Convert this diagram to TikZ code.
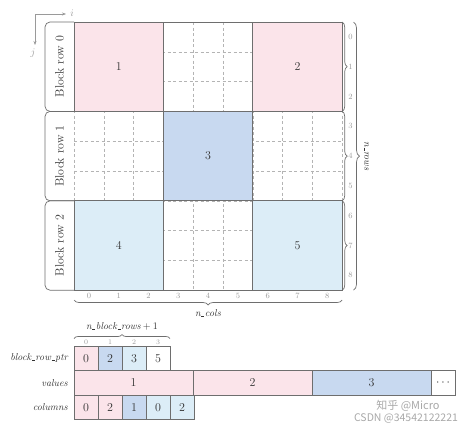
\documentclass[tikz,border=0pt]{standalone}
\usepackage{fontspec}
\newfontfamily\cjkfont{Noto Sans CJK SC}
\usetikzlibrary{decorations.pathreplacing,arrows.meta}
\definecolor{bpink}{HTML}{FBE4EA}
\definecolor{bblue}{HTML}{C8D9F0}
\definecolor{blight}{HTML}{DCEDF7}
\definecolor{lineg}{HTML}{6E6E6E}
\definecolor{dashg}{HTML}{B4B4B4}
\definecolor{idxg}{HTML}{9A9A9A}
\definecolor{txt}{HTML}{333333}
\definecolor{wmark}{HTML}{A8A8A8}
\newcommand\myus{\leavevmode\kern.06em\vbox{\hrule width.3em height .4pt}\kern.06em}
\tikzset{
  dashline/.style={draw=dashg, dash pattern=on 3pt off 2.5pt, line width=0.5pt},
  solidline/.style={draw=lineg, line width=0.7pt},
  blockbox/.style={draw=lineg, line width=0.7pt, minimum width=89.4pt, minimum height=89.4pt, inner sep=0pt, font=\fontsize{12}{14}\selectfont, text=txt},
  rowlabel/.style={rotate=90, text=txt, font=\fontsize{12}{14}\selectfont, inner sep=0pt},
  idx/.style={text=idxg, font=\fontsize{8}{9}\selectfont, inner sep=0pt},
  sidx/.style={text=idxg, font=\fontsize{7}{8}\selectfont, inner sep=0pt},
  lab/.style={text=txt, font=\fontsize{10}{12}\selectfont\itshape, inner sep=0pt},
  cell/.style={draw=lineg, line width=0.7pt, minimum height=24.5pt, minimum width=24pt, inner sep=0pt, font=\fontsize{12}{14}\selectfont, text=txt},
  bracestyle/.style={draw=lineg, line width=0.7pt, decorate},
  axisline/.style={draw=idxg, line width=0.5pt, -{Stealth[length=4pt,width=3pt]}},
  axislabel/.style={text=idxg, font=\fontsize{10}{12}\selectfont, inner sep=0pt},
  wm/.style={text=wmark, inner sep=0pt},
}
\begin{document}
\begin{tikzpicture}[x=1pt,y=-1pt]
\useasboundingbox (0,0) rectangle (474,429);
\def\s{29.8}
% axes
\coordinate (o) at (35,14);
\coordinate (ie) at (66,14);
\coordinate (je) at (35,45);
\draw[axisline] (o) -- (ie);
\draw[axisline] (o) -- (je);
\node[axislabel] (il) at (72,13) {$i$};
\node[axislabel] (jl) at (33,53) {$j$};
% dashed grid
\foreach \k in {0,...,9} {
  \draw[dashline] ({74+\k*\s},22) -- ({74+\k*\s},{22+9*\s});
  \draw[dashline] (74,{22+\k*\s}) -- ({74+9*\s},{22+\k*\s});
}
% blocks
\node[blockbox, fill=bpink]  (b1) at ({74+1.5*\s},{22+1.5*\s}) {1};
\node[blockbox, fill=bpink]  (b2) at ({74+7.5*\s},{22+1.5*\s}) {2};
\node[blockbox, fill=bblue]  (b3) at ({74+4.5*\s},{22+4.5*\s}) {3};
\node[blockbox, fill=blight] (b4) at ({74+1.5*\s},{22+7.5*\s}) {4};
\node[blockbox, fill=blight] (b5) at ({74+7.5*\s},{22+7.5*\s}) {5};
% block rows
\foreach \r in {0,1,2} {
  \pgfmathsetmacro{\ya}{22+3*\r*\s}
  \pgfmathsetmacro{\yb}{22+3*(\r+1)*\s}
  \draw[solidline, rounded corners=5pt] (74,\ya) -- (45,\ya) -- (45,\yb) -- (74,\yb);
  \draw[solidline] (74,\ya) -- ({74+9*\s},\ya);
  \draw[solidline] (74,\yb) -- ({74+9*\s},\yb);
  \draw[bracestyle, decoration={brace, amplitude=5pt}] ({74+9*\s},\ya) -- ({74+9*\s},\yb);
  \node[rowlabel] (br\r) at (59.5,{22+(3*\r+1.5)*\s}) {Block row \r};
}
% indices
\foreach \k in {0,...,8} {
  \node[idx] (ri\k) at (350.5,{22+(\k+0.5)*\s}) {\k};
  \node[idx] (ci\k) at ({74+(\k+0.5)*\s},295.5) {\k};
}
% outer braces
\coordinate (rt) at (353.5,22);
\coordinate (rb) at (353.5,{22+9*\s});
\draw[bracestyle, decoration={brace, amplitude=6pt}] (rt) -- (rb);
\node[lab, rotate=-90] (nrows) at (366.5,156) {n\myus rows};
\coordinate (cl) at (74,300);
\coordinate (cr) at ({74+9*\s},300);
\draw[bracestyle, decoration={brace, mirror, amplitude=5pt}] (cl) -- (cr);
\node[lab] (ncols) at (208,313) {n\myus cols};
% arrays
\node[lab, anchor=east] (lptr) at (68,358) {block\myus row\myus ptr};
\node[lab, anchor=east] (lval) at (68,383) {values};
\node[lab, anchor=east] (lcol) at (68,407.5) {columns};
\node[cell, fill=bpink]  (p0) at (86,358.25) {0};
\node[cell, fill=bblue]  (p1) at (110,358.25) {2};
\node[cell, fill=blight] (p2) at (134,358.25) {3};
\node[cell, fill=white]  (p3) at (158,358.25) {5};
\foreach \k in {0,...,3} {
  \node[sidx] (pi\k) at ({86+24*\k},342.5) {\k};
}
\coordinate (pl) at (74,338.5);
\coordinate (pr) at (170,338.5);
\draw[bracestyle, decoration={brace, amplitude=4pt}] (pl) -- (pr);
\node[lab] (nbr) at (122,326) {n\myus block\myus rows{\upshape${}+1$}};
\node[cell, fill=bpink, minimum width=119pt] (v1) at (133.5,382.75) {1};
\node[cell, fill=bpink, minimum width=119pt] (v2) at (252.5,382.75) {2};
\node[cell, fill=bblue, minimum width=119pt] (v3) at (371.5,382.75) {3};
\node[cell, fill=white] (v4) at (443,382.75) {$\cdots$};
\node[cell, fill=bpink]  (c0) at (86,407.25) {0};
\node[cell, fill=bpink]  (c1) at (110,407.25) {2};
\node[cell, fill=bblue]  (c2) at (134,407.25) {1};
\node[cell, fill=blight] (c3) at (158,407.25) {0};
\node[cell, fill=blight] (c4) at (182,407.25) {2};
% watermark
\node[wm, font=\cjkfont\fontsize{11}{12}\selectfont] (wm1) at (408,406) {知乎 @Micro};
\node[wm, font=\cjkfont\fontsize{10.5}{12}\selectfont] (wm2) at (406,418.5) {CSDN @34542122221};
\end{tikzpicture}
\end{document}
